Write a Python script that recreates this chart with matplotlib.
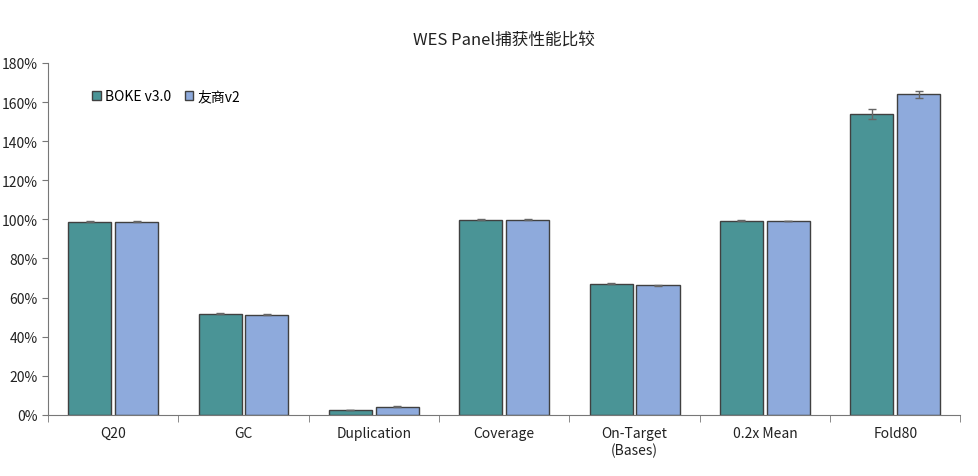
import matplotlib
matplotlib.use("Agg")
import matplotlib.pyplot as plt
import numpy as np
from matplotlib.ticker import FuncFormatter, FixedLocator

plt.rcParams['font.family'] = ['Noto Sans CJK SC', 'DejaVu Sans']

categories = ["Q20", "GC", "Duplication", "Coverage", "On-Target\n(Bases)", "0.2x Mean", "Fold80"]
boke = [98.9, 51.8, 2.5, 99.9, 67.0, 99.4, 154.0]
boke_err = [0.3, 0.3, 0.2, 0.1, 0.3, 0.2, 2.5]
youshang = [98.8, 51.3, 4.2, 99.9, 66.3, 99.2, 164.0]
youshang_err = [0.3, 0.4, 0.2, 0.1, 0.3, 0.2, 1.8]
series_names = ["BOKE v3.0", "友商v2"]

fig = plt.figure(figsize=(9.79, 4.77), dpi=100)
ax = fig.add_axes([0.049, 0.128, 0.932, 0.738])
x = np.arange(len(categories))
w = 0.33
ek = dict(ecolor="#666666", capsize=3, elinewidth=1)
ax.bar(x - 0.18, boke, w, yerr=boke_err, color="#4A9496", edgecolor="#404040", linewidth=1, label=series_names[0], error_kw=ek)
ax.bar(x + 0.18, youshang, w, yerr=youshang_err, color="#8EAADC", edgecolor="#404040", linewidth=1, label=series_names[1], error_kw=ek)

ax.set_xlim(-0.5, len(categories) - 0.5)
ax.set_ylim(0, 180)
ax.set_yticks(np.arange(0, 181, 20))
ax.yaxis.set_major_formatter(FuncFormatter(lambda v, p: f"{int(v)}%"))
ax.set_xticks(x)
ax.set_xticklabels(categories, fontsize=10, color="#222222")
ax.tick_params(axis='x', length=0, pad=8)
ax.xaxis.set_minor_locator(FixedLocator(np.arange(-0.5, len(categories), 1)))
ax.tick_params(axis='x', which='minor', length=5, color="#777777")
ax.tick_params(axis='y', labelsize=10, colors="#222222", length=4)
ax.tick_params(axis='y', color="#777777")
for s in ["top", "right"]:
    ax.spines[s].set_visible(False)
for s in ["left", "bottom"]:
    ax.spines[s].set_color("#777777")
ax.set_title("WES Panel捕获性能比较", fontsize=12, color="#222222", pad=14)
ax.legend(loc="upper left", bbox_to_anchor=(0.035, 0.96), ncol=2, frameon=False, fontsize=10,
          handlelength=0.6, handleheight=0.6, handletextpad=0.3, columnspacing=1.0)
fig.savefig("out.png", dpi=100)
